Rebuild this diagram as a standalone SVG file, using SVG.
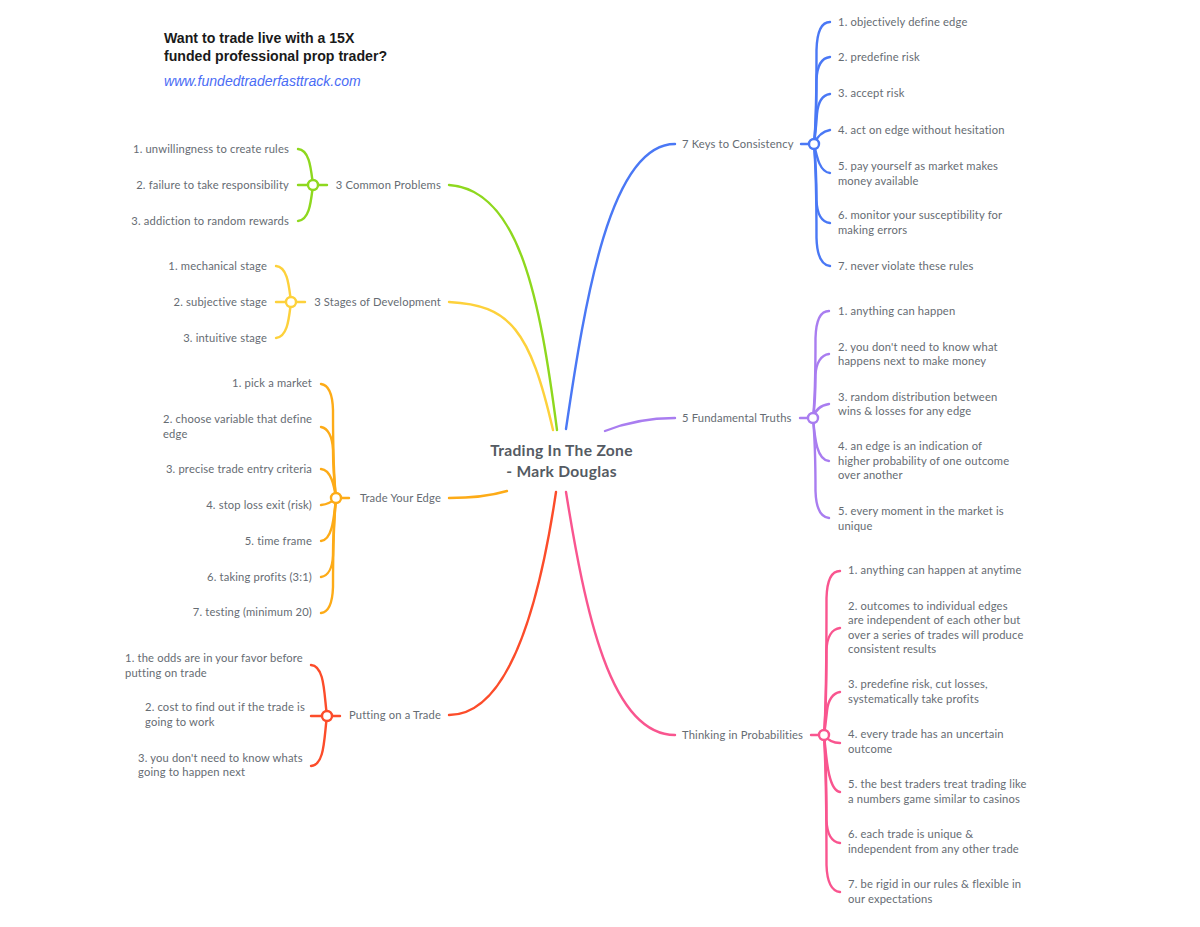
<svg xmlns="http://www.w3.org/2000/svg" width="1200" height="927" viewBox="0 0 1200 927">
<style>
text{font-family:"Lato","Liberation Sans",sans-serif;font-size:11.2px;letter-spacing:.16px;fill:#666c73}
.r{text-anchor:end}
.c{text-anchor:middle}
.root{font-size:15.6px;letter-spacing:.3px;font-weight:700;fill:#555b63}
.ad{font-family:"Liberation Sans",Arial,sans-serif;font-size:14.15px;letter-spacing:0;font-weight:700;fill:#1a1a1a}
.link{font-family:"Liberation Sans",Arial,sans-serif;font-size:14.05px;letter-spacing:0;font-style:italic;fill:#4a6cf5}
.w path{fill:none;stroke-width:2.4;stroke-linecap:round}
.hub{fill:#fff;stroke-width:2.4}
.blue path{stroke:#4a78f5}.green path{stroke:#8ed81e}.yellow path{stroke:#fdd13b}.orange path{stroke:#fdab17}.red path{stroke:#fc4c2a}.pink path{stroke:#f9558f}.purple path{stroke:#a97df0}
</style>
<rect width="1200" height="927" fill="#fff"/>
<g id="connectors" class="w">
<g class="blue">
<path d="M566 429C585 300 610 144 675 144"/>
<path d="M801 144H814"/>
<path d="M814 144C816 125 816.5 100 816.5 50C817 32 821 22 830 22"/>
<path d="M814 144C816 125 816.5 100 816.5 80C817 66 821 58 830 57"/>
<path d="M814 144C816 130 816.5 120 817 114C818 102 823 95 830 94"/>
<path d="M814 144Q819 132 830 130"/>
<path d="M814 144C817 158 820 172 830 173"/>
<path d="M814 144C816 165 816.5 180 816.5 200C817 214 821 222 830 223"/>
<path d="M814 144C816 170 816.5 190 816.5 238C817 256 821 265 830 266"/>
</g>
<g class="green">
<path d="M557 430C540 300 520 190 449 185"/>
<path d="M298 185H327"/>
<path d="M313 185C311 170 310 150 298 149"/>
<path d="M313 185C311 200 310 220 298 221"/>
</g>
<g class="yellow">
<path d="M553 430C530 330 510 305 449 302"/>
<path d="M276 302H305"/>
<path d="M291 302C289 287 288 267 276 266"/>
<path d="M291 302C289 317 288 337 276 338"/>
</g>
<g class="orange">
<path d="M507 491C490 496 470 498 449 498"/>
<path d="M336 498H349"/>
<path d="M336 498C334 480 333 450 333 410C332.5 394 329 385 321 384"/>
<path d="M336 498C334 480 333 470 333 450C332.5 437 328 428 321 427"/>
<path d="M336 498C334 485 331 470 321 469"/>
<path d="M336 498Q330 504 321 505"/>
<path d="M336 498C334 515 333 540 321 541"/>
<path d="M336 498C334 520 333 540 333 555C332.5 568 328 576 321 577"/>
<path d="M336 498C334 520 333 550 333 587C332.5 603 329 612 321 613"/>
</g>
<g class="red">
<path d="M556 492C540 600 510 715 449 715"/>
<path d="M311 716H340"/>
<path d="M327 716C324 695 325 666 311 665"/>
<path d="M327 716C324 737 325 765 311 766"/>
</g>
<g class="pink">
<path d="M566 492C585 610 610 735 675 735"/>
<path d="M811 735H824"/>
<path d="M824 735C826 710 826.5 670 826.5 598C827 581 831 571 840 571"/>
<path d="M824 735C826 710 826.5 690 826.5 650C827 637 832 629 840 628"/>
<path d="M824 735C826 722 826.5 715 827 711C828 700 833 693 840 692"/>
<path d="M824 735Q830 743 840 743"/>
<path d="M824 735C826 750 827 790 840 792"/>
<path d="M824 735C826 760 826.5 790 826.5 820C827 834 832 842 840 843"/>
<path d="M824 735C826 770 826.5 810 826.5 865C827 882 831 891 840 892"/>
</g>
<g class="purple">
<path d="M605 431C625 423 650 418 675 418"/>
<path d="M800 418H813"/>
<path d="M813 418C815 400 815.5 380 815.5 338C816 321 820 311 829 311"/>
<path d="M813 418C815 405 815.5 395 815.5 375C816 363 821 355 829 354"/>
<path d="M813 418Q816 406 829 404"/>
<path d="M813 418C815 440 817 460 829 461"/>
<path d="M813 418C815 440 815.5 460 815.5 491C816 508 820 517 829 518"/>
</g>
</g>
<g id="hubs">
<circle class="hub" cx="814" cy="144" r="5" stroke="#4a78f5"/>
<circle class="hub" cx="313" cy="185" r="5" stroke="#8ed81e"/>
<circle class="hub" cx="291" cy="302" r="5" stroke="#fdd13b"/>
<circle class="hub" cx="336" cy="498" r="5" stroke="#fdab17"/>
<circle class="hub" cx="327" cy="716" r="5" stroke="#fc4c2a"/>
<circle class="hub" cx="824" cy="735" r="5" stroke="#f9558f"/>
<circle class="hub" cx="813" cy="418" r="5" stroke="#a97df0"/>
</g>
<g id="ad">
<text class="ad" x="164" y="42.5">Want to trade live with a 15X</text>
<text class="ad" x="164" y="61">funded professional prop trader?</text>
<text class="link" x="164" y="85.5">www.fundedtraderfasttrack.com</text>
</g>
<g id="root">
<text class="root c" x="561.5" y="455.5">Trading In The Zone</text>
<text class="root c" x="561.5" y="476.5">- Mark Douglas</text>
</g>
<g id="keys"><text x="682" y="148">7 Keys to Consistency</text></g>
<g id="keys-1"><text x="838" y="26">1. objectively define edge</text></g>
<g id="keys-2"><text x="838" y="61">2. predefine risk</text></g>
<g id="keys-3"><text x="838" y="97">3. accept risk</text></g>
<g id="keys-4"><text x="838" y="134">4. act on edge without hesitation</text></g>
<g id="keys-5"><text x="838" y="170">5. pay yourself as market makes</text><text x="838" y="184.5">money available</text></g>
<g id="keys-6"><text x="838" y="219">6. monitor your susceptibility for</text><text x="838" y="233.5">making errors</text></g>
<g id="keys-7"><text x="838" y="269.5">7. never violate these rules</text></g>
<g id="truths"><text x="682" y="422">5 Fundamental Truths</text></g>
<g id="truths-1"><text x="838" y="315">1. anything can happen</text></g>
<g id="truths-2"><text x="838" y="351">2. you don't need to know what</text><text x="838" y="365">happens next to make money</text></g>
<g id="truths-3"><text x="838" y="401">3. random distribution between</text><text x="838" y="415">wins &amp; losses for any edge</text></g>
<g id="truths-4"><text x="838" y="450">4. an edge is an indication of</text><text x="838" y="465">higher probability of one outcome</text><text x="838" y="479">over another</text></g>
<g id="truths-5"><text x="838" y="515">5. every moment in the market is</text><text x="838" y="529.5">unique</text></g>
<g id="prob"><text x="682" y="738.5">Thinking in Probabilities</text></g>
<g id="prob-1"><text x="848" y="574">1. anything can happen at anytime</text></g>
<g id="prob-2"><text x="848" y="610">2. outcomes to individual edges</text><text x="848" y="624">are independent of each other but</text><text x="848" y="639">over a series of trades will produce</text><text x="848" y="653">consistent results</text></g>
<g id="prob-3"><text x="848" y="688">3. predefine risk, cut losses,</text><text x="848" y="703">systematically take profits</text></g>
<g id="prob-4"><text x="848" y="738">4. every trade has an uncertain</text><text x="848" y="753">outcome</text></g>
<g id="prob-5"><text x="848" y="788">5. the best traders treat trading like</text><text x="848" y="803">a numbers game similar to casinos</text></g>
<g id="prob-6"><text x="848" y="838">6. each trade is unique &amp;</text><text x="848" y="852.5">independent from any other trade</text></g>
<g id="prob-7"><text x="848" y="888">7. be rigid in our rules &amp; flexible in</text><text x="848" y="903">our expectations</text></g>
<g id="problems"><text class="r" x="441" y="189">3 Common Problems</text></g>
<g id="problems-1"><text class="r" x="289" y="153">1. unwillingness to create rules</text></g>
<g id="problems-2"><text class="r" x="289" y="189">2. failure to take responsibility</text></g>
<g id="problems-3"><text class="r" x="289" y="225">3. addiction to random rewards</text></g>
<g id="stages"><text class="r" x="441" y="306">3 Stages of Development</text></g>
<g id="stages-1"><text class="r" x="267" y="270">1. mechanical stage</text></g>
<g id="stages-2"><text class="r" x="267" y="306">2. subjective stage</text></g>
<g id="stages-3"><text class="r" x="267" y="342">3. intuitive stage</text></g>
<g id="edge"><text class="r" x="441" y="502">Trade Your Edge</text></g>
<g id="edge-1"><text class="r" x="312" y="387">1. pick a market</text></g>
<g id="edge-2"><text x="163" y="423">2. choose variable that define</text><text x="163" y="438">edge</text></g>
<g id="edge-3"><text class="r" x="312" y="473">3. precise trade entry criteria</text></g>
<g id="edge-4"><text class="r" x="312" y="509">4. stop loss exit (risk)</text></g>
<g id="edge-5"><text class="r" x="312" y="545">5. time frame</text></g>
<g id="edge-6"><text class="r" x="312" y="581">6. taking profits (3:1)</text></g>
<g id="edge-7"><text class="r" x="312" y="616">7. testing (minimum 20)</text></g>
<g id="trade"><text class="r" x="441" y="719">Putting on a Trade</text></g>
<g id="trade-1"><text x="125" y="662">1. the odds are in your favor before</text><text x="125" y="677">putting on trade</text></g>
<g id="trade-2"><text x="145" y="711">2. cost to find out if the trade is</text><text x="145" y="726">going to work</text></g>
<g id="trade-3"><text x="138" y="762">3. you don't need to know whats</text><text x="138" y="776">going to happen next</text></g>
</svg>
